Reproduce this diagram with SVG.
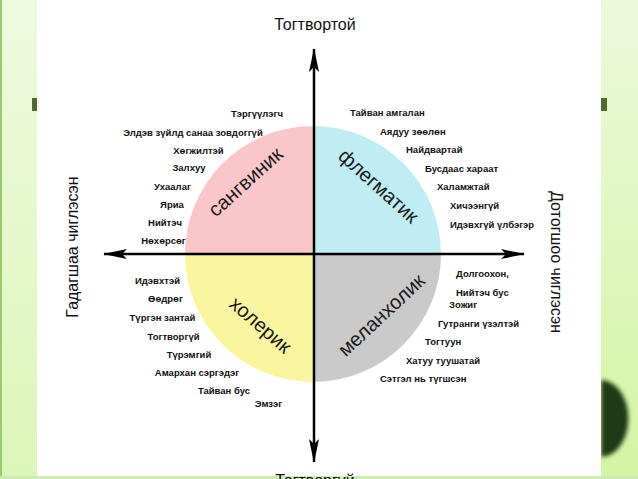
<svg xmlns="http://www.w3.org/2000/svg" width="638" height="479" viewBox="0 0 638 479">
<defs>
<linearGradient id="gr" x1="0" y1="0" x2="0" y2="1">
<stop offset="0" stop-color="#ecf9dc"/>
<stop offset="1" stop-color="#d3f5a3"/>
</linearGradient>
<linearGradient id="gl" x1="0" y1="0" x2="0" y2="1">
<stop offset="0" stop-color="#eefadf"/>
<stop offset="1" stop-color="#dcf6b8"/>
</linearGradient>
<filter id="blur" x="-50%" y="-50%" width="200%" height="200%"><feGaussianBlur stdDeviation="2"/></filter>
<marker id="ah" viewBox="0 0 24 10" refX="23" refY="5" markerWidth="24" markerHeight="10" markerUnits="userSpaceOnUse" orient="auto">
<path d="M0,0 L24,5 L0,10 L5,5 Z" fill="#000"/>
</marker>
<style>
.s{font-family:"Liberation Sans",Arial,sans-serif;font-weight:bold;font-size:9.5px;fill:#111}
.m{text-anchor:middle}
.q{font-family:"Liberation Sans",Arial,sans-serif;font-size:20px;fill:#1a1a1a;text-anchor:middle}
.t{font-family:"Liberation Sans",Arial,sans-serif;font-size:16px;fill:#111;text-anchor:middle}
.ax{stroke:#000;stroke-width:2.5;fill:none;marker-end:url(#ah)}
</style>
</defs>
<g id="background">
<rect x="0" y="0" width="638" height="479" fill="#ffffff"/>
<rect x="0" y="0" width="37" height="479" fill="url(#gl)"/>
<rect x="0" y="0" width="2" height="479" fill="#9cc870"/>
<rect x="601" y="0" width="37" height="479" fill="url(#gr)"/>
<rect x="0" y="476" width="638" height="3" fill="#cfe9b4"/>
<rect x="32" y="98" width="5" height="13" fill="#4f6b2e"/>
<rect x="601" y="98" width="6" height="13" fill="#4f6b2e"/>
<path d="M601,380 A27,38 0 0 1 601,457 Z" fill="#1f3a12" filter="url(#blur)"/>
<rect x="596" y="370" width="5" height="100" fill="#ffffff"/>
</g>
<g id="sanguine">
<path d="M313,254 L185,254 A128,128 0 0 1 313,126 Z" fill="#f9c6ca"/>
<text class="q" transform="translate(250,187) rotate(-42)">сангвиник</text>
</g>
<g id="phlegmatic">
<path d="M313,254 L313,126 A128,128 0 0 1 441,254 Z" fill="#bfedf3"/>
<text class="q" transform="translate(374,191) rotate(42)">флегматик</text>
</g>
<g id="choleric">
<path d="M313,254 L313,382 A128,128 0 0 1 185,254 Z" fill="#faf59f"/>
<text class="q" transform="translate(256,330) rotate(41)">холерик</text>
</g>
<g id="melancholic">
<path d="M313,254 L441,254 A128,128 0 0 1 313,382 Z" fill="#cacaca"/>
<text class="q" transform="translate(386,320) rotate(-43)">меланхолик</text>
</g>
<g id="connectors">
<line class="ax" x1="314" y1="254" x2="314" y2="49"/>
<line class="ax" x1="314" y1="254" x2="314" y2="462"/>
<line class="ax" x1="314" y1="254" x2="104" y2="254"/>
<line class="ax" x1="314" y1="254" x2="524" y2="254"/>
</g>
<g id="axis-labels">
<text class="t" x="315" y="30">Тогтвортой</text>
<text class="t" transform="translate(78,247) rotate(-90)">Гадагшаа чиглэсэн</text>
<text class="t" transform="translate(551,262) rotate(90)">Дотогшоо чиглэсэн</text>
<text class="t" x="315" y="486">Тогтворгүй</text>
</g>
<g id="sanguine-traits" class="s m">
<text x="257" y="116.5">Тэргүүлэгч</text>
<text x="193" y="135.5">Элдэв зүйлд санаа зовдоггүй</text>
<text x="198.5" y="153.5">Хөгжилтэй</text>
<text x="189" y="170.5">Залхуу</text>
<text x="172.5" y="189.5">Ухаалаг</text>
<text x="172" y="207.5">Яриа</text>
<text x="165" y="225.5">Нийтэч</text>
<text x="163.5" y="243.5">Нөхөрсөг</text>
</g>
<g id="phlegmatic-traits" class="s">
<text x="350" y="115.5">Тайван амгалан</text>
<text x="380" y="134.5">Аядуу зөөлөн</text>
<text x="406" y="152.5">Найдвартай</text>
<text x="425" y="171.5">Бусдаас хараат</text>
<text x="437" y="189.5">Халамжтай</text>
<text x="450" y="208.5">Хичээнгүй</text>
<text x="450" y="227.5">Идэвхгүй үлбэгэр</text>
</g>
<g id="choleric-traits" class="s m">
<text x="157.5" y="283.5">Идэвхтэй</text>
<text x="165.5" y="301.5">Өөдрөг</text>
<text x="162.5" y="320.5">Түргэн зантай</text>
<text x="173.5" y="339.5">Тогтворгүй</text>
<text x="189" y="357.5">Түрэмгий</text>
<text x="197" y="375.5">Амархан сэргэдэг</text>
<text x="224" y="393.5">Тайван бус</text>
<text x="268.5" y="406.5">Эмзэг</text>
</g>
<g id="melancholic-traits" class="s">
<text x="456" y="276.5">Долгоохон,</text>
<text x="456" y="295.5">Нийтэч бус</text>
<text x="449" y="307.5">Зожиг</text>
<text x="438" y="326.5">Гутранги үзэлтэй</text>
<text x="425" y="344.5">Тогтуун</text>
<text x="406" y="363.5">Хатуу туушатай</text>
<text x="380" y="381.5">Сэтгэл нь түгшсэн</text>
</g>
</svg>
